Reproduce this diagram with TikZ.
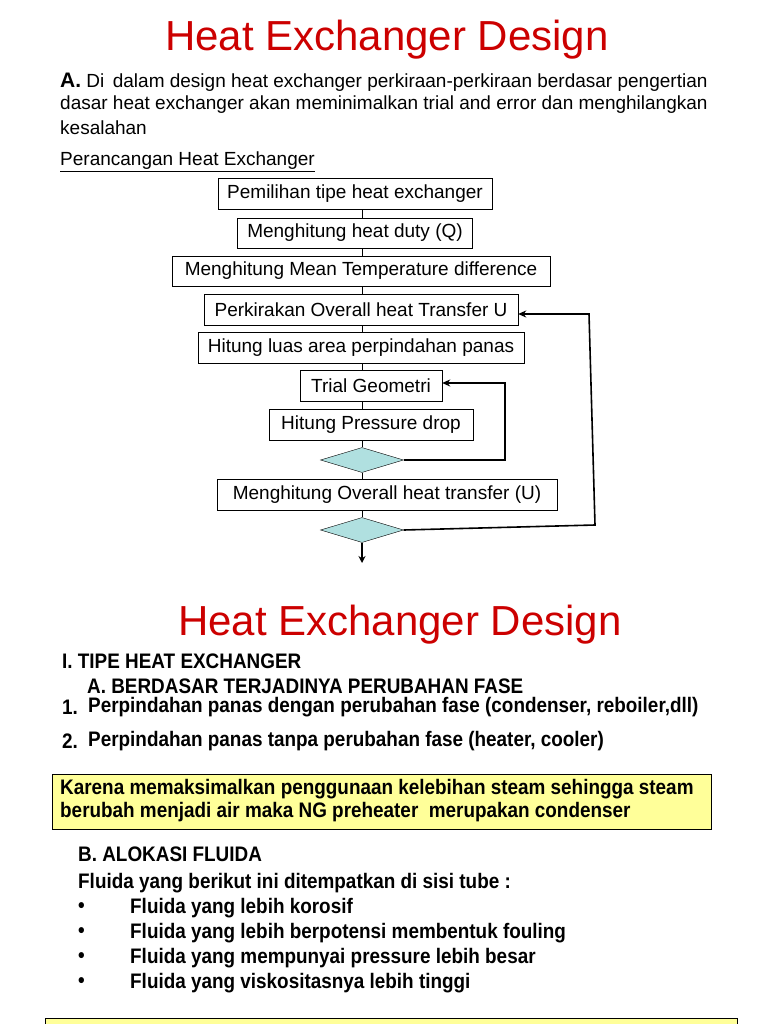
\documentclass[tikz,border=0pt]{standalone}
\usepackage{fontspec}
\setmainfont{Liberation Sans}
\newfontfamily\narrowb[FakeStretch=0.9]{Liberation Sans Bold}
\usetikzlibrary{shapes.geometric,arrows.meta}
\definecolor{ttl}{RGB}{204,0,0}
\definecolor{dia}{RGB}{176,224,224}
\definecolor{yel}{RGB}{255,255,153}
\begin{document}
\begin{tikzpicture}[x=1pt,y=-1pt,
  fbox/.style={draw,thin,inner sep=0pt,minimum height=31pt,font=\fontsize{19}{22}\selectfont},
  dec/.style={draw,fill=dia,diamond,aspect=3.3,inner sep=0pt,minimum width=83pt,minimum height=25pt},
  ttlf/.style={text=ttl,font=\fontsize{42}{46}\selectfont},
  body/.style={anchor=west,inner sep=0pt,font=\fontsize{19}{22}\selectfont},
  bb/.style={anchor=west,inner sep=0pt,font=\narrowb\fontsize{21}{24}\selectfont},
  loop/.style={line width=1.6pt,-{Stealth[length=8pt,width=7pt]}}]
\useasboundingbox (0,0) rectangle (768,1024);
\fill[white] (0,0) rectangle (768,1024);
\node[ttlf] (t1) at (387,40) {Heat Exchanger Design};
\node[body] (a1) at (60,82) {{\fontsize{21}{22}\selectfont\bfseries A.} Di\, dalam design heat exchanger perkiraan-perkiraan berdasar pengertian};
\node[body] (a2) at (60,105) {dasar heat exchanger akan meminimalkan trial and error dan menghilangkan};
\node[body] (a3) at (60,128) {kesalahan};
\node[body] (pr) at (60,162) {\underline{Perancangan Heat Exchanger}};
\node[fbox,minimum width=274pt] (b1) at (355,194) {Pemilihan tipe heat exchanger};
\node[fbox,minimum width=235pt,minimum height=30pt] (b2) at (355,233) {Menghitung heat duty (Q)};
\node[fbox,minimum width=378pt,minimum height=30pt] (b3) at (361,271) {Menghitung Mean Temperature difference};
\node[fbox,minimum width=314pt] (b4) at (361,310) {Perkirakan Overall heat Transfer U};
\node[fbox,minimum width=326pt] (b5) at (361,348) {Hitung luas area perpindahan panas};
\node[fbox,minimum width=142pt] (b6) at (371,386) {Trial Geometri};
\node[fbox,minimum width=204pt] (b7) at (371,425) {Hitung Pressure drop};
\node[dec] (d1) at (362,460) {};
\node[fbox,minimum width=340pt] (b8) at (387,495) {Menghitung Overall heat transfer (U)};
\node[dec] (d2) at (362,530) {};
\coordinate (end) at (362,563);
\foreach \a/\b in {b1/b2,b2/b3,b3/b4,b4/b5,b5/b6,b6/b7,b7/d1,d1/b8,b8/d2}
  \draw (\a.south -| 362,0) -- (\b.north -| 362,0);
\draw[line width=1.6pt,-{Stealth[length=7pt,width=7pt]}] (d2.south) -- (end);
\coordinate (l1a) at (505,460); \coordinate (l1b) at (505,383);
\draw[loop] (d1.east) -- (l1a) -- (l1b) -- (b6.east |- l1b);
\coordinate (l2a) at (595,525); \coordinate (l2b) at (589,314);
\draw[loop] (d2.east) -- (l2a) -- (l2b) -- (b4.east |- l2b);
\node[ttlf] (t2) at (400,625) {Heat Exchanger Design};
\node[bb] (i1) at (62,661) {I. TIPE HEAT EXCHANGER};
\node[bb] (i2) at (87,686) {A. BERDASAR TERJADINYA PERUBAHAN FASE};
\node[bb] (n1) at (62,707) {1.};
\node[bb] (n1t) at (88,707) {Perpindahan panas dengan perubahan fase (condenser, reboiler,dll)};
\node[bb] (n2) at (62,741) {2.};
\node[bb] (n2t) at (88,741) {Perpindahan panas tanpa perubahan fase (heater, cooler)};
\draw[fill=yel] (52,774) rectangle (711,829);
\node[bb] (y1) at (60,789) {Karena memaksimalkan penggunaan kelebihan steam sehingga steam};
\node[bb] (y2) at (60,812) {berubah menjadi air maka NG preheater\ \ merupakan condenser};
\node[bb] (bh) at (78,854) {B. ALOKASI FLUIDA};
\node[bb] (bf) at (78,883) {Fluida yang berikut ini ditempatkan di sisi tube :};
\foreach \y/\t in {908/Fluida yang lebih korosif,933/Fluida yang lebih berpotensi membentuk fouling,958/Fluida yang mempunyai pressure lebih besar,983/Fluida yang viskositasnya lebih tinggi}{
  \node[bb] at (78,\y) {\textbullet};
  \node[bb] at (130,\y) {\t};}
\draw[fill=yel] (45,1018) rectangle (737,1030);
\end{tikzpicture}
\end{document}
